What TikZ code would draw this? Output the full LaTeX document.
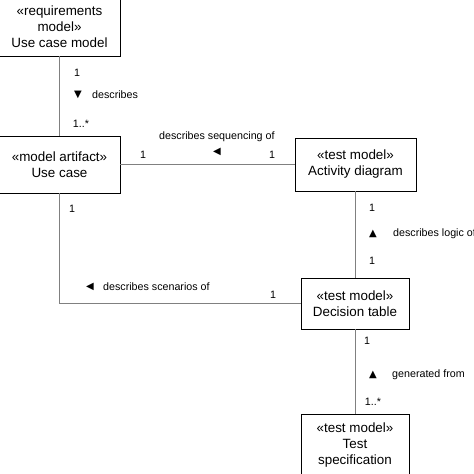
\documentclass[tikz,border=0pt]{standalone}
\usepackage{fontspec}
\setmainfont{Liberation Sans}
\newfontfamily\symfont{DejaVu Sans}
\usepackage{tikz}
\usetikzlibrary{arrows.meta, positioning, calc}

\begin{document}
\begin{tikzpicture}[
  x=1pt, y=-1pt,
  box/.style={rectangle, draw=black, line width=0.9pt,
              minimum width=121pt, minimum height=55pt, inner sep=0pt,
              align=center, font=\fontsize{13.4}{16}\selectfont},
  link/.style={draw=black!50, line width=0.8pt},
  mult/.style={inner sep=0pt, font=\fontsize{10.7}{12}\selectfont},
  role/.style={mult, anchor=west},
  tri/.style={inner sep=0pt, font=\symfont\fontsize{10}{10}\selectfont}
]
\useasboundingbox (0,0) rectangle (474,474);

\node[box, minimum height=58pt] (reqmodel) at (59.5,27) {«requirements\\model»\\Use case model};
\node[box, minimum height=57pt] (usecase) at (59.5,164.5) {«model artifact»\\Use case};
\node[box, minimum height=53pt] (activity) at (355.5,164.5) {«test model»\\Activity diagram};
\node[box, minimum width=108pt, minimum height=51pt] (dectable) at (355,303.5) {«test model»\\Decision table};
\node[box, minimum width=108pt, minimum height=62pt] (testspec) at (355,445) {«test model»\\Test\\specification};

\draw[link] (reqmodel) -- (usecase);
\draw[link] (usecase) -- (activity);
\draw[link] (activity.south) -- (activity.south |- dectable.north);
\draw[link] (usecase.south) |- (dectable.west);
\draw[link] (dectable) -- (testspec);

\node[mult] (m1) at (77,73) {1};
\node[tri] (t1) at (78,95) {▼};
\node[role] (r1) at (92,95) {describes};
\node[mult] (m2) at (81,124) {1..*};

\node[mult] (m3) at (143,155) {1};
\node[role] (r2) at (159,137) {describes sequencing of};
\node[tri] (t2) at (217,152) {◀};
\node[mult] (m4) at (272,155) {1};

\node[mult] (m5) at (372,208) {1};
\node[tri] (t3) at (373,234) {▲};
\node[role] (r3) at (393,234) {describes logic of};
\node[mult] (m6) at (372,261) {1};

\node[mult] (m7) at (72,209) {1};
\node[tri] (t4) at (90,287) {◀};
\node[role] (r4) at (103,287) {describes scenarios of};
\node[mult] (m8) at (273,295) {1};

\node[mult] (m9) at (367,341) {1};
\node[tri] (t5) at (373,375) {▲};
\node[role] (r5) at (392,375) {generated from};
\node[mult] (m10) at (373,402) {1..*};

\end{tikzpicture}
\end{document}
